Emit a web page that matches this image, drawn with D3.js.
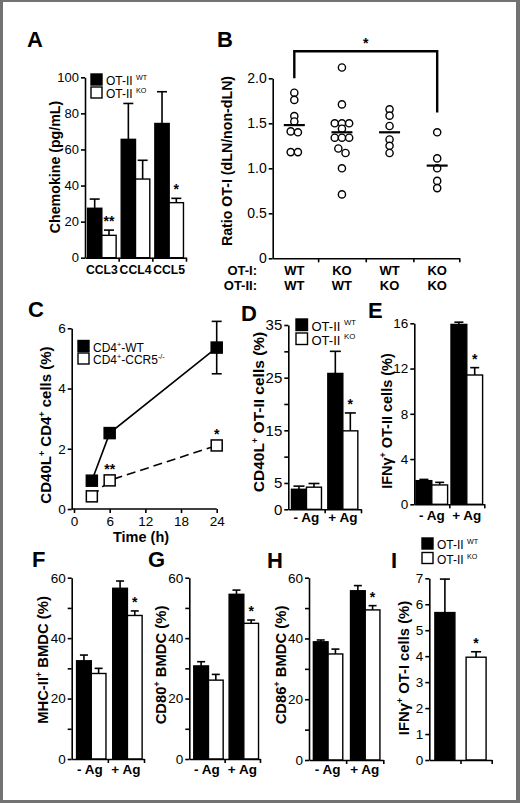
<!DOCTYPE html>
<html><head><meta charset="utf-8">
<script src="https://cdn.jsdelivr.net/npm/d3@7"></script>
<style>
body{margin:0;background:#fff}
svg{display:block}
text{font-family:"Liberation Sans",Arial,Helvetica,sans-serif;fill:#000}
</style>
</head><body>
<svg id="fig" width="520" height="803"></svg>
<script>
// ================= DATA =================
// Panel A
const chemokines = ["CCL3", "CCL4", "CCL5"];
const chemoWT = [27.4, 65.6, 74.4];
const chemoWTErr = [5.1, 19.9, 17.6];
const chemoKO = [12.4, 43.6, 30.5];
const chemoKOErr = [2.9, 10.4, 2.4];
const chemoStars = ["**", "", "*"];
const chemoTicks = [0, 20, 40, 60, 80, 100];

// Panel B
const otILabels = ["WT", "KO", "WT", "KO"];
const otIILabels = ["WT", "WT", "KO", "KO"];
const ratioWTWT = [1.84, 1.76, 1.58, 1.52, 1.41, 1.40, 1.18, 1.18];
const ratioKOWT = [2.12, 1.71, 1.50, 1.50, 1.50, 1.44, 1.34, 1.34, 1.34, 1.22, 1.17, 1.00, 0.71];
const ratioWTKO = [1.655, 1.585, 1.47, 1.32, 1.25, 1.17];
const ratioKOKO = [1.40, 1.11, 1.00, 0.86, 0.78];
const ratioMeans = [1.48, 1.40, 1.40, 1.03];
const ratioTicks = [0, 0.5, 1.0, 1.5, 2.0];

// Panel C
const timeHours = [3, 6, 24];
const cd40WT = [0.94, 2.52, 5.36];
const cd40WTErr = [0.05, 0.12, 0.87];
const cd40KO = [0.42, 0.95, 2.11];
const cd40KOErr = [0.04, 0.08, 0.15];
const cd40Stars = ["", "**", "*"];
const timeTicks = [0, 6, 12, 18, 24];
const cd40Ticks = [0, 2, 4, 6];

// Panels D-H (- Ag / + Ag)
const agLabels = ["- Ag", "+ Ag"];
const cd40lWT = [3.8, 25.8], cd40lWTErr = [0.6, 4.2];
const cd40lKO = [4.2, 14.9], cd40lKOErr = [0.7, 3.4];
const cd40lTicks = [0, 5, 10, 15, 20, 25, 30, 35], cd40lLabels = [0, 5, 15, 25, 35];

const ifnWT = [2.09, 15.9], ifnWTErr = [0.11, 0.2];
const ifnKO = [1.71, 11.43], ifnKOErr = [0.23, 0.65];
const ifnTicks = [0, 4, 8, 12, 16];

const mhcWT = [32.5, 56.5], mhcWTErr = [1.9, 2.4];
const mhcKO = [28.3, 47.5], mhcKOErr = [1.7, 1.5];
const cd80WT = [30.8, 54.5], cd80WTErr = [1.4, 1.4];
const cd80KO = [26.1, 44.9], cd80KOErr = [1.9, 1.1];
const cd86WT = [38.9, 55.7], cd86WTErr = [0.6, 1.7];
const cd86KO = [34.9, 49.4], cd86KOErr = [1.6, 1.4];
const bmdcTicks = [0, 10, 20, 30, 40, 50, 60], bmdcLabels = [0, 20, 40, 60];
const agStars = ["", "*"];

// Panel I
const otIGroups = ["WT", "KO"];
const otIIfn = [5.68, 3.96];
const otIIfnErr = [1.29, 0.21];
const otIIfnStars = ["", "*"];
const otIIfnTicks = [0, 1, 2, 3, 4, 5, 6, 7];

// ================= DRAWING =================
const svg = d3.select("#fig");
svg.append("rect").attr("width", 520).attr("height", 803).attr("fill", "#727272");
svg.append("rect").attr("x", 3).attr("y", 2).attr("width", 513).attr("height", 798).attr("fill", "#fff");

const AX = 1.6;
const BLACK = "#000";
const FONT = '"Liberation Sans",Arial,sans-serif';

function rich(sel, parts, fs) {
  let raised = false;
  parts.forEach(p => {
    const sup = p.startsWith("^");
    const t = sel.append("tspan").text(sup ? p.slice(1) : p);
    if (sup) { t.attr("font-size", fs * 0.6).attr("dy", -fs * 0.4); raised = true; }
    else if (raised) { t.attr("dy", fs * 0.4); raised = false; }
  });
}
function letter(ch, x, y) {
  svg.append("text").attr("x", x).attr("y", y).attr("font-size", 22).attr("font-weight", "bold").text(ch);
}
function vtitle(parts, x, y, fs) {
  const t = svg.append("text").attr("transform", `translate(${x},${y}) rotate(-90)`)
    .attr("text-anchor", "middle").attr("font-size", fs).attr("font-weight", "bold");
  rich(t, parts, fs);
}
function star(s, x, y) {
  if (!s) return;
  svg.append("text").attr("x", x).attr("y", y).attr("text-anchor", "middle")
    .attr("font-size", 14).attr("font-weight", "bold").text(s);
}
function legend(x, y, fs, items) {
  items.forEach((it, i) => {
    const yy = y + i * it.dy;
    svg.append("rect").attr("x", x).attr("y", yy).attr("width", it.s).attr("height", it.s)
      .attr("fill", it.fill).attr("stroke", BLACK).attr("stroke-width", 1.4);
    const t = svg.append("text").attr("x", x + it.s + 4).attr("y", yy + it.s).attr("font-size", fs);
    rich(t, it.parts, fs);
  });
}
function styleAxis(g, fs) {
  g.attr("font-family", FONT).attr("font-size", fs);
  g.select(".domain").attr("stroke", BLACK).attr("stroke-width", AX);
  g.selectAll(".tick line").attr("stroke", BLACK).attr("stroke-width", AX);
  g.selectAll(".tick text").attr("font-size", fs).attr("fill", BLACK).attr("font-family", FONT);
}

function barPanel(o) {
  const y = d3.scaleLinear().domain([0, o.max]).range([o.y0, o.y1]);
  const xb = d3.scaleBand().domain(o.cats).range([o.x0, o.x1]);
  const nS = o.series.length;
  const xs = d3.scaleBand().domain(d3.range(nS)).range([0, o.barW * nS]);
  const fmt = o.fmt || d3.format("d");
  const g = svg.append("g");
  o.cats.forEach((c, i) => {
    o.series.forEach((s, k) => {
      const v = s.vals[i];
      if (v == null) return;
      const bx = xb(c) + (xb.bandwidth() - o.barW * nS) / 2 + xs(k) + (o.shift || 0);
      const cx = bx + o.barW / 2;
      const top = y(v), et = y(v + s.errs[i]);
      const fill = Array.isArray(s.fill) ? s.fill[i] : s.fill;
      g.append("line").attr("x1", cx).attr("x2", cx).attr("y1", top).attr("y2", et)
        .attr("stroke", BLACK).attr("stroke-width", 1.6);
      g.append("line").attr("x1", cx - o.capW / 2).attr("x2", cx + o.capW / 2).attr("y1", et).attr("y2", et)
        .attr("stroke", BLACK).attr("stroke-width", 1.6);
      g.append("rect").attr("x", bx).attr("y", top).attr("width", o.barW).attr("height", o.y0 - top)
        .attr("fill", fill).attr("stroke", BLACK).attr("stroke-width", 1.4);
      if (s.stars) star(s.stars[i], cx, et - 4);
    });
  });
  const ya = svg.append("g").attr("transform", `translate(${o.x0},0)`)
    .call(d3.axisLeft(y).tickValues(o.ticks).tickSize(4).tickSizeOuter(0).tickPadding(2)
      .tickFormat(d => (o.labels || o.ticks).includes(d) ? fmt(d) : ""));
  styleAxis(ya, o.tickFs);
  const xl = d3.scaleLinear().domain([0, o.cats.length]).range([o.x0, o.x1]);
  const xa = svg.append("g").attr("transform", `translate(0,${o.y0})`)
    .call(d3.axisBottom(xl).tickValues(d3.range(1, o.cats.length + 1)).tickSize(4).tickSizeOuter(0).tickFormat(""));
  styleAxis(xa, o.tickFs);
  if (o.catY) {
    o.cats.forEach(c => {
      svg.append("text").attr("x", xb(c) + xb.bandwidth() / 2).attr("y", o.catY)
        .attr("text-anchor", "middle").attr("font-size", o.catFs).attr("font-weight", "bold").text(c);
    });
  }
}

// ---------- Panel A ----------
letter("A", 27, 47);
barPanel({
  x0: 85, x1: 186, y0: 257.7, y1: 77.3, max: 100, cats: chemokines,
  series: [{ vals: chemoWT, errs: chemoWTErr, fill: "#000" },
           { vals: chemoKO, errs: chemoKOErr, fill: "#fff", stars: chemoStars }],
  barW: 14.3, capW: 10, ticks: chemoTicks, tickFs: 13, catY: 274, catFs: 12.2
});
vtitle(["Chemokine (pg/mL)"], 59.5, 167, 14.2);
legend(91, 74, 12, [
  { s: 11, dy: 13, fill: "#000", parts: ["OT-II ", "^WT"] },
  { s: 11, dy: 13, fill: "#fff", parts: ["OT-II ", "^KO"] }
]);

// ---------- Panel B ----------
letter("B", 217, 47);
{
  const y = d3.scaleLinear().domain([0, 2]).range([258.3, 78.3]);
  const xb = d3.scaleBand().domain(d3.range(4)).range([270.5, 461]);
  const xEnd = 459.3, x0 = 272.7;
  const groups = [ratioWTWT, ratioKOWT, ratioWTKO, ratioKOKO];
  const r = 3.6, d = 7.2;
  groups.forEach((vals, gi) => {
    const cx = xb(gi) + xb.bandwidth() / 2;
    const sorted = vals.slice().sort((a, b) => b - a);
    const rows = [];
    sorted.forEach(v => {
      const last = rows[rows.length - 1];
      if (last && Math.abs(y(v) - y(last[0])) < 5) last.push(v); else rows.push([v]);
    });
    rows.forEach(row => {
      row.forEach((v, j) => {
        svg.append("circle").attr("cx", cx + (j - (row.length - 1) / 2) * d).attr("cy", y(v)).attr("r", r)
          .attr("fill", "#fff").attr("stroke", BLACK).attr("stroke-width", 1.4);
      });
    });
    svg.append("line").attr("x1", cx - 10.5).attr("x2", cx + 10.5)
      .attr("y1", y(ratioMeans[gi])).attr("y2", y(ratioMeans[gi]))
      .attr("stroke", BLACK).attr("stroke-width", 2.2);
    svg.append("text").attr("x", cx).attr("y", 275).attr("text-anchor", "middle")
      .attr("font-size", 13).attr("font-weight", "bold").text(otILabels[gi]);
    svg.append("text").attr("x", cx).attr("y", 290).attr("text-anchor", "middle")
      .attr("font-size", 13).attr("font-weight", "bold").text(otIILabels[gi]);
  });
  svg.append("text").attr("x", 257).attr("y", 275).attr("text-anchor", "end")
    .attr("font-size", 13).attr("font-weight", "bold").text("OT-I:");
  svg.append("text").attr("x", 257).attr("y", 290).attr("text-anchor", "end")
    .attr("font-size", 13).attr("font-weight", "bold").text("OT-II:");
  const ya = svg.append("g").attr("transform", `translate(${x0},0)`)
    .call(d3.axisLeft(y).tickValues(ratioTicks).tickSize(4).tickSizeOuter(0).tickPadding(2)
      .tickFormat(v => v === 0 ? "0" : d3.format(".1f")(v)));
  styleAxis(ya, 14);
  const xl = d3.scaleLinear().domain([x0, xEnd]).range([x0, xEnd]);
  const xt = [1, 2, 3].map(i => xb(i)).concat([xEnd]);
  const xa = svg.append("g").attr("transform", `translate(0,${y(0)})`)
    .call(d3.axisBottom(xl).tickValues(xt).tickSize(4).tickSizeOuter(0).tickFormat(""));
  styleAxis(xa, 13);
  const c0 = xb(0) + xb.bandwidth() / 2, c3 = xb(3) + xb.bandwidth() / 2;
  svg.append("path").attr("d", `M${c0},${y(2.0)}V${y(2.3)}H${c3}V${y(1.62)}`)
    .attr("fill", "none").attr("stroke", BLACK).attr("stroke-width", 2.4);
  star("*", (c0 + c3) / 2, y(2.43) + 8);
  vtitle(["Ratio OT-I (dLN/non-dLN)"], 231.5, 161, 14.2);
}

// ---------- Panel C ----------
letter("C", 28, 317);
{
  const x = d3.scaleLinear().domain([0, 24]).range([74, 216.7]);
  const y = d3.scaleLinear().domain([0, 6]).range([509, 328.3]);
  const yAxX = 71.7;
  const ya = svg.append("g").attr("transform", `translate(${yAxX},0)`)
    .call(d3.axisLeft(y).tickValues(cd40Ticks).tickSize(4).tickSizeOuter(0).tickPadding(2).tickFormat(d3.format("d")));
  styleAxis(ya, 13.5);
  const xa = svg.append("g").attr("transform", `translate(0,${y(0)})`)
    .call(d3.axisBottom(x).tickValues(timeTicks).tickSize(4).tickSizeOuter(0).tickPadding(3).tickFormat(d3.format("d")));
  styleAxis(xa, 13.5);
  xa.select(".domain").attr("d", `M${yAxX},0H${x(24)}`);
  const line = d3.line().x((d, i) => x(timeHours[i])).y(d => y(d));
  svg.append("path").attr("d", line(cd40WT)).attr("fill", "none").attr("stroke", BLACK).attr("stroke-width", 1.6);
  svg.append("path").attr("d", line(cd40KO)).attr("fill", "none").attr("stroke", BLACK)
    .attr("stroke-width", 1.6).attr("stroke-dasharray", "9,5");
  const s = 11;
  [[cd40WT, cd40WTErr, "#000"], [cd40KO, cd40KOErr, "#fff"]].forEach(([vals, errs, fill]) => {
    vals.forEach((v, i) => {
      const cx = x(timeHours[i]);
      const t = y(v + errs[i]), b = y(v - errs[i]);
      svg.append("line").attr("x1", cx).attr("x2", cx).attr("y1", t).attr("y2", b).attr("stroke", BLACK).attr("stroke-width", 1.6);
      [t, b].forEach(yy => svg.append("line").attr("x1", cx - 5).attr("x2", cx + 5).attr("y1", yy).attr("y2", yy)
        .attr("stroke", BLACK).attr("stroke-width", 1.6));
      svg.append("rect").attr("x", cx - s / 2).attr("y", y(v) - s / 2).attr("width", s).attr("height", s)
        .attr("fill", fill).attr("stroke", BLACK).attr("stroke-width", 1.5);
    });
  });
  cd40KO.forEach((v, i) => {
    const top = Math.min(y(v) - s / 2, y(v + cd40KOErr[i]));
    star(cd40Stars[i], x(timeHours[i]), top - 1);
  });
  svg.append("text").attr("x", 141).attr("y", 541.5).attr("text-anchor", "middle")
    .attr("font-size", 14.5).attr("font-weight", "bold").text("Time (h)");
  vtitle(["CD40L", "^+", " CD4", "^+", " cells (%)"], 51, 425, 15);
  legend(78, 340.5, 12, [
    { s: 11, dy: 12.5, fill: "#000", parts: ["CD4", "^+", "-WT"] },
    { s: 11, dy: 12.5, fill: "#fff", parts: ["CD4", "^+", "-CCR5", "^-/-"] }
  ]);
}

// ---------- Panel D ----------
letter("D", 241, 321);
barPanel({
  x0: 288.3, x1: 361, y0: 509.3, y1: 325, max: 35, cats: agLabels,
  series: [{ vals: cd40lWT, errs: cd40lWTErr, fill: "#000" },
           { vals: cd40lKO, errs: cd40lKOErr, fill: "#fff", stars: agStars }],
  barW: 15, capW: 11, ticks: cd40lTicks, labels: cd40lLabels, tickFs: 15, catY: 522, catFs: 13.5
});
vtitle(["CD40L", "^+", " OT-II cells (%)"], 264, 412, 15.5);
legend(296, 319, 13, [
  { s: 11.5, dy: 14, fill: "#000", parts: ["OT-II ", "^WT"] },
  { s: 11.5, dy: 14, fill: "#fff", parts: ["OT-II ", "^KO"] }
]);

// ---------- Panel E ----------
letter("E", 368, 318);
barPanel({
  x0: 414.3, x1: 484.3, y0: 504.3, y1: 323.3, max: 16, cats: agLabels,
  series: [{ vals: ifnWT, errs: ifnWTErr, fill: "#000" },
           { vals: ifnKO, errs: ifnKOErr, fill: "#fff", stars: agStars }],
  barW: 15.8, capW: 9, ticks: ifnTicks, tickFs: 13.5, catY: 520, catFs: 13.5
});
vtitle(["IFN\u03b3", "^+", " OT-II cells (%)"], 391.5, 421, 14.5);

// ---------- Panel F ----------
letter("F", 32, 567);
barPanel({
  x0: 71.7, x1: 144, y0: 759, y1: 577.7, max: 60, cats: agLabels,
  series: [{ vals: mhcWT, errs: mhcWTErr, fill: "#000" },
           { vals: mhcKO, errs: mhcKOErr, fill: "#fff", stars: agStars }],
  barW: 14.7, capW: 8, ticks: bmdcTicks, labels: bmdcLabels, tickFs: 13.5, catY: 773.5, catFs: 13.5, shift: 1.5
});
vtitle(["MHC-II", "^+", " BMDC (%)"], 47.5, 660, 14.8);

// ---------- Panel G ----------
letter("G", 148, 567);
barPanel({
  x0: 189.3, x1: 260, y0: 759, y1: 577.7, max: 60, cats: agLabels,
  series: [{ vals: cd80WT, errs: cd80WTErr, fill: "#000" },
           { vals: cd80KO, errs: cd80KOErr, fill: "#fff", stars: agStars }],
  barW: 14.7, capW: 8, ticks: bmdcTicks, labels: bmdcLabels, tickFs: 13.5, catY: 773.5, catFs: 13.5, shift: 1.5
});
vtitle(["CD80", "^+", " BMDC (%)"], 166, 665, 14.8);

// ---------- Panel H ----------
letter("H", 267, 568);
barPanel({
  x0: 309, x1: 383.3, y0: 760, y1: 577.7, max: 60, cats: agLabels,
  series: [{ vals: cd86WT, errs: cd86WTErr, fill: "#000" },
           { vals: cd86KO, errs: cd86KOErr, fill: "#fff", stars: agStars }],
  barW: 14.7, capW: 8, ticks: bmdcTicks, labels: bmdcLabels, tickFs: 13.5, catY: 773.5, catFs: 13.5, shift: 0.5
});
vtitle(["CD86", "^+", " BMDC (%)"], 286, 665, 14.8);

// ---------- Panel I ----------
letter("I", 391, 568);
barPanel({
  x0: 429.3, x1: 491.7, y0: 760, y1: 578.3, max: 7, cats: otIGroups,
  series: [{ vals: otIIfn, errs: otIIfnErr, fill: ["#000", "#fff"], stars: otIIfnStars }],
  barW: 20, capW: 10, ticks: otIIfnTicks, tickFs: 13.5
});
vtitle(["IFN\u03b3", "^+", " OT-I cells (%)"], 409, 668, 14.8);
legend(422, 538, 12, [
  { s: 11, dy: 14.5, fill: "#000", parts: ["OT-II ", "^WT"] },
  { s: 11, dy: 14.5, fill: "#fff", parts: ["OT-II ", "^KO"] }
]);
</script>
</body></html>
